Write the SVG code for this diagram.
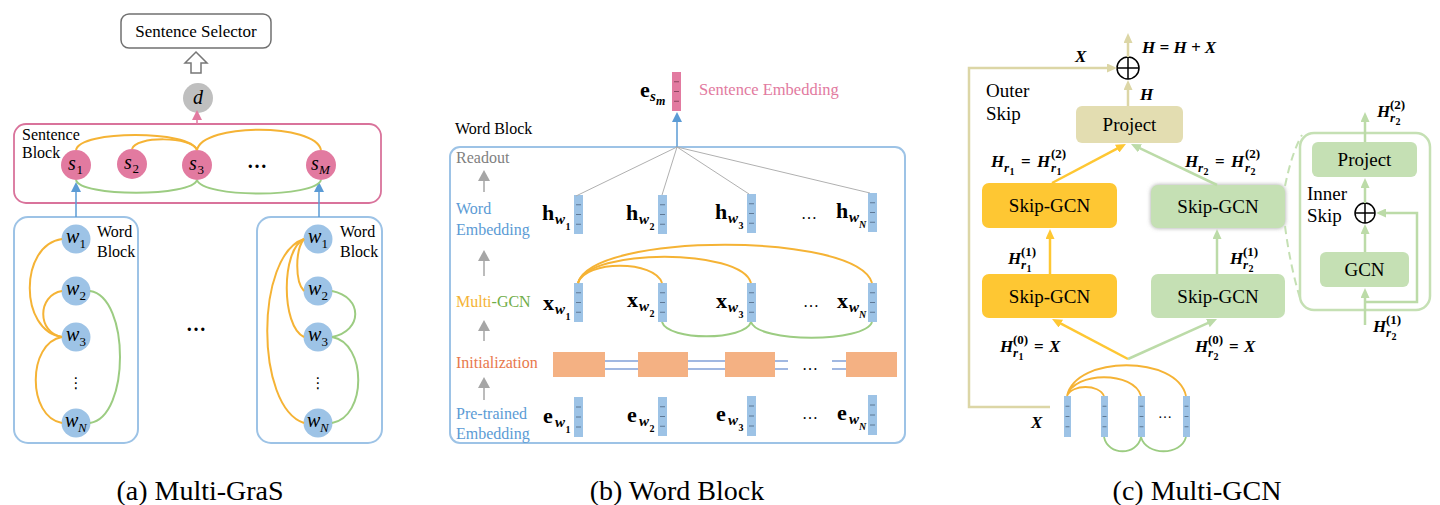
<svg xmlns="http://www.w3.org/2000/svg" width="1440" height="505" viewBox="0 0 1440 505">
<style>
text{font-family:'Liberation Serif','Times New Roman',serif;fill:#000}
.lbl{font-size:16px}
.bx{font-size:19px;text-anchor:middle}
.bi{font-weight:bold;font-style:italic}
.b{font-weight:bold}
.i{font-style:italic}
.org{fill:none;stroke:#f5b335;stroke-width:2}
.grn{fill:none;stroke:#9ccc82;stroke-width:2}
.pk{fill:#e27aa0}
.bl{fill:#9dc3e6}
.cap{font-size:28px;text-anchor:middle}
.dots{font-size:16px;text-anchor:middle}
.kha{fill:none;stroke:#dcd6a6;stroke-width:2.5}
.yel{fill:none;stroke:#fec733;stroke-width:2.5}
.lg{fill:none;stroke:#bcdba8;stroke-width:2.5}
.gy{fill:none;stroke:#a6a6a6;stroke-width:1.5}
</style>
<defs>
<marker id="ab" markerUnits="userSpaceOnUse" markerWidth="10" markerHeight="10" refX="1" refY="5" orient="auto"><path d="M0,0L10,5L0,10z" fill="#5b9bd5"/></marker>
<marker id="ap" markerUnits="userSpaceOnUse" markerWidth="10" markerHeight="10" refX="1" refY="5" orient="auto"><path d="M0,0L10,5L0,10z" fill="#e27aa0"/></marker>
<marker id="ag" markerUnits="userSpaceOnUse" markerWidth="11" markerHeight="12" refX="1" refY="6" orient="auto"><path d="M0,0L11,6L0,12z" fill="#a6a6a6"/></marker>
<marker id="ak" markerUnits="userSpaceOnUse" markerWidth="10" markerHeight="9" refX="1" refY="4.5" orient="auto"><path d="M0,0L10,4.5L0,9z" fill="#dcd6a6"/></marker>
<marker id="ay" markerUnits="userSpaceOnUse" markerWidth="10" markerHeight="9" refX="1" refY="4.5" orient="auto"><path d="M0,0L10,4.5L0,9z" fill="#fec733"/></marker>
<marker id="al" markerUnits="userSpaceOnUse" markerWidth="10" markerHeight="9" refX="1" refY="4.5" orient="auto"><path d="M0,0L10,4.5L0,9z" fill="#bcdba8"/></marker>
<symbol id="vb" viewBox="0 0 9 40" preserveAspectRatio="none"><rect width="9" height="40" fill="#9dc3e6"/><path d="M2 10H7M2 20H7M2 30H7" stroke="#5d7894" stroke-width="1"/></symbol>
<symbol id="vp" viewBox="0 0 9 40" preserveAspectRatio="none"><rect width="9" height="40" fill="#e27aa0"/><path d="M2 10H7M2 20H7M2 30H7" stroke="#8a4460" stroke-width="1"/></symbol>
<filter id="sh" x="-10%" y="-20%" width="120%" height="140%"><feDropShadow dx="0" dy="0" stdDeviation="2" flood-color="#888" flood-opacity="0.8"/></filter>
</defs>

<!-- ================= Panel (a) ================= -->
<g id="a-selector"><rect x="121" y="14" width="150" height="34" rx="8" fill="#fff" stroke="#707070" stroke-width="1.5"/><text x="196" y="37" font-size="17" text-anchor="middle">Sentence Selector</text></g>
<g id="a-hollow-arrow"><path d="M196 52L207 63H201V73H191V63H185Z" fill="#fff" stroke="#777" stroke-width="1.5"/></g>
<g id="a-d"><circle cx="198" cy="98" r="15" fill="#bfbfbf"/><text x="193" y="104" class="i" font-size="20">d</text></g>
<g id="a-sentence-block"><rect x="14" y="124" width="367" height="79" rx="12" fill="none" stroke="#d9739b" stroke-width="1.8"/><text x="22" y="140" class="lbl">Sentence</text><text x="22" y="158" class="lbl">Block</text></g>
<g id="a-s1"><circle cx="76" cy="165" r="15" class="pk"/><text x="68" y="170" class="i" font-size="20">s</text><text x="76.5" y="174" font-size="13">1</text></g>
<g id="a-s2"><circle cx="132" cy="164" r="15" class="pk"/><text x="124" y="169" class="i" font-size="20">s</text><text x="132.5" y="173" font-size="13">2</text></g>
<g id="a-s3"><circle cx="197" cy="165" r="15" class="pk"/><text x="189" y="170" class="i" font-size="20">s</text><text x="197.5" y="174" font-size="13">3</text></g>
<text x="257" y="168" font-size="20" font-weight="bold" text-anchor="middle">…</text>
<g id="a-sM"><circle cx="321" cy="165" r="15" class="pk"/><text x="311" y="170" class="i" font-size="20">s</text><text x="319" y="174" class="i" font-size="13">M</text></g>

<g id="a-wordblock-1"><rect x="14" y="217" width="124" height="226" rx="14" fill="none" stroke="#9dc3e6" stroke-width="2"/><text x="97" y="237" class="lbl">Word</text><text x="97" y="257" class="lbl">Block</text>
<g id="a-w1-1"><circle cx="76" cy="239" r="14.5" class="bl"/><text x="66" y="243" class="i" font-size="20">w</text><text x="79.5" y="248" font-size="13">1</text></g>
<g id="a-w2-1"><circle cx="76" cy="291" r="14.5" class="bl"/><text x="66" y="295" class="i" font-size="20">w</text><text x="79.5" y="300" font-size="13">2</text></g>
<g id="a-w3-1"><circle cx="76" cy="337" r="14.5" class="bl"/><text x="66" y="341" class="i" font-size="20">w</text><text x="79.5" y="346" font-size="13">3</text></g>
<text x="76" y="388" font-size="15" text-anchor="middle" style="font-family:'DejaVu Sans',sans-serif">⋮</text>
<g id="a-wN-1"><circle cx="76" cy="423" r="14.5" class="bl"/><text x="65" y="427" class="i" font-size="20">w</text><text x="78" y="432" class="i" font-size="13">N</text></g>
</g>
<text x="196" y="331" font-size="20" font-weight="bold" text-anchor="middle">…</text>
<g id="a-wordblock-2"><rect x="257" y="217" width="125" height="226" rx="14" fill="none" stroke="#9dc3e6" stroke-width="2"/><text x="340" y="237" class="lbl">Word</text><text x="340" y="257" class="lbl">Block</text>
<g id="a-w1-2"><circle cx="318" cy="239" r="14.5" class="bl"/><text x="308" y="243" class="i" font-size="20">w</text><text x="321.5" y="248" font-size="13">1</text></g>
<g id="a-w2-2"><circle cx="318" cy="291" r="14.5" class="bl"/><text x="308" y="295" class="i" font-size="20">w</text><text x="321.5" y="300" font-size="13">2</text></g>
<g id="a-w3-2"><circle cx="318" cy="337" r="14.5" class="bl"/><text x="308" y="341" class="i" font-size="20">w</text><text x="321.5" y="346" font-size="13">3</text></g>
<text x="318" y="388" font-size="15" text-anchor="middle" style="font-family:'DejaVu Sans',sans-serif">⋮</text>
<g id="a-wN-2"><circle cx="318" cy="423" r="14.5" class="bl"/><text x="307" y="427" class="i" font-size="20">w</text><text x="320" y="432" class="i" font-size="13">N</text></g>
</g>

<!-- ================= Panel (b) ================= -->
<text x="455" y="134" class="lbl">Word Block</text>
<g id="b-wordblock"><rect x="450" y="147" width="455" height="296" rx="10" fill="none" stroke="#9dc3e6" stroke-width="2"/></g>
<g id="b-sentence-emb"><use href="#vp" x="672" y="72" width="9" height="39"/>
<text x="640" y="97" class="b" font-size="22">e</text><text x="650" y="101" class="bi" font-size="15">s</text><text x="656" y="105" class="bi" font-size="12">m</text>
<text x="699" y="95" font-size="16.5" style="fill:#e27aa0">Sentence Embedding</text></g>
<g id="b-left-labels">
<text x="456" y="163" class="lbl" style="fill:#7f7f7f">Readout</text>
<text x="456" y="214" class="lbl" style="fill:#5b9bd5">Word</text>
<text x="456" y="235" class="lbl" style="fill:#5b9bd5">Embedding</text>
<text x="456" y="307" class="lbl"><tspan style="fill:#f5b335">Multi</tspan><tspan style="fill:#70ad47">-GCN</tspan></text>
<text x="456" y="368" class="lbl" style="fill:#e8784b">Initialization</text>
<text x="456" y="419" class="lbl" style="fill:#5b9bd5">Pre-trained</text>
<text x="456" y="439" class="lbl" style="fill:#5b9bd5">Embedding</text>
</g>
<g id="b-h">
<use href="#vb" x="574" y="195" width="9" height="39"/><use href="#vb" x="658" y="195" width="9" height="39"/><use href="#vb" x="747" y="194" width="9" height="39"/><use href="#vb" x="868" y="193" width="9" height="39"/>
<text x="542" y="220" class="b" font-size="22">h</text><text x="555" y="224" class="bi" font-size="15">w</text><text x="565.5" y="230" class="b" font-size="10">1</text>
<text x="626" y="220" class="b" font-size="22">h</text><text x="639" y="224" class="bi" font-size="15">w</text><text x="649.5" y="230" class="b" font-size="10">2</text>
<text x="715" y="219" class="b" font-size="22">h</text><text x="728" y="223" class="bi" font-size="15">w</text><text x="738.5" y="229" class="b" font-size="10">3</text>
<text x="809" y="219" class="dots">…</text>
<text x="836" y="218" class="b" font-size="22">h</text><text x="849" y="222" class="bi" font-size="15">w</text><text x="859" y="228" class="bi" font-size="10">N</text>
</g>
<g id="b-x">
<use href="#vb" x="574" y="283" width="9" height="39"/><use href="#vb" x="658" y="283" width="9" height="39"/><use href="#vb" x="747" y="283" width="9" height="39"/><use href="#vb" x="868" y="283" width="9" height="39"/>
<text x="543" y="310" class="b" font-size="22">x</text><text x="555" y="314" class="bi" font-size="15">w</text><text x="565.5" y="320" class="b" font-size="10">1</text>
<text x="627" y="307" class="b" font-size="22">x</text><text x="639" y="311" class="bi" font-size="15">w</text><text x="649.5" y="317" class="b" font-size="10">2</text>
<text x="716" y="308" class="b" font-size="22">x</text><text x="728" y="312" class="bi" font-size="15">w</text><text x="738.5" y="318" class="b" font-size="10">3</text>
<text x="811" y="307" class="dots">…</text>
<text x="837" y="308" class="b" font-size="22">x</text><text x="849" y="312" class="bi" font-size="15">w</text><text x="859" y="318" class="bi" font-size="10">N</text>
</g>
<g id="b-init">
<rect x="553" y="352" width="52" height="25" fill="#f4b183"/><rect x="638" y="352" width="50" height="25" fill="#f4b183"/><rect x="725" y="352" width="50" height="25" fill="#f4b183"/><rect x="846" y="352" width="51" height="25" fill="#f4b183"/>
<text x="810" y="370" class="dots">…</text>
</g>
<g id="b-e">
<use href="#vb" x="574" y="397" width="9" height="40"/><use href="#vb" x="658" y="397" width="9" height="39"/><use href="#vb" x="747" y="396" width="9" height="40"/><use href="#vb" x="868" y="395" width="9" height="40"/>
<text x="543" y="423" class="b" font-size="22">e</text><text x="555" y="427" class="bi" font-size="15">w</text><text x="565.5" y="433" class="b" font-size="10">1</text>
<text x="627" y="422" class="b" font-size="22">e</text><text x="639" y="426" class="bi" font-size="15">w</text><text x="649.5" y="432" class="b" font-size="10">2</text>
<text x="716" y="421" class="b" font-size="22">e</text><text x="728" y="425" class="bi" font-size="15">w</text><text x="738.5" y="431" class="b" font-size="10">3</text>
<text x="810" y="419" class="dots">…</text>
<text x="837" y="420" class="b" font-size="22">e</text><text x="849" y="424" class="bi" font-size="15">w</text><text x="859" y="430" class="bi" font-size="10">N</text>
</g>

<!-- ================= Panel (c) ================= -->
<g id="c-oplus-outer"><circle cx="1128" cy="68" r="11" fill="#fff" stroke="#000" stroke-width="1.5"/><path d="M1117 68H1139M1128 57V79" stroke="#000" stroke-width="1.5"/></g>
<g id="c-project-outer"><rect x="1076" y="106" width="107" height="37" rx="6" fill="#e3ddb1"/><text x="1129.5" y="131" class="bx">Project</text></g>
<text x="986" y="97" font-size="19">Outer</text><text x="986" y="120" font-size="19">Skip</text>
<g id="c-skipgcn-r1-2"><rect x="982" y="183" width="135" height="45" rx="7" fill="#fec733"/><text x="1049.5" y="212" class="bx">Skip-GCN</text></g>
<g id="c-skipgcn-r2-2"><rect x="1151" y="185" width="134" height="43" rx="7" fill="#c5e0b4" filter="url(#sh)"/><text x="1218" y="213" class="bx">Skip-GCN</text></g>
<g id="c-skipgcn-r1-1"><rect x="982" y="274" width="135" height="44" rx="7" fill="#fec733"/><text x="1049.5" y="303" class="bx">Skip-GCN</text></g>
<g id="c-skipgcn-r2-1"><rect x="1151" y="274" width="134" height="44" rx="7" fill="#c5e0b4"/><text x="1218" y="303" class="bx">Skip-GCN</text></g>
<g id="c-X">
<use href="#vb" x="1064" y="396" width="7" height="41"/><use href="#vb" x="1101" y="396" width="7" height="41"/><use href="#vb" x="1138" y="396" width="7" height="41"/><use href="#vb" x="1183" y="396" width="7" height="41"/>
<text x="1165" y="418" font-size="14" text-anchor="middle">…</text>
<text x="1031" y="428" class="bi" font-size="17">X</text>
</g>
<g id="c-inner-skip">
<rect x="1300" y="133" width="130" height="177" rx="14" fill="none" stroke="#c5e0b4" stroke-width="2.5"/>
<g id="c-project-inner"><rect x="1312" y="142" width="105" height="35" rx="6" fill="#c5e0b4"/><text x="1364.5" y="166" class="bx">Project</text></g>
<text x="1307" y="200" font-size="19">Inner</text><text x="1307" y="222" font-size="19">Skip</text>
<g id="c-oplus-inner"><circle cx="1365" cy="213" r="10" fill="#fff" stroke="#000" stroke-width="1.5"/><path d="M1355 213H1375M1365 203V223" stroke="#000" stroke-width="1.5"/></g>
<g id="c-gcn"><rect x="1320" y="252" width="89" height="35" rx="6" fill="#c5e0b4"/><text x="1364.5" y="276" class="bx">GCN</text></g>
</g>

<!-- ================= Connectors ================= -->
<g id="connectors">
<line x1="197" y1="124" x2="197" y2="119" stroke="#e27aa0" stroke-width="1.5" marker-end="url(#ap)"/>
<line x1="76" y1="217" x2="76" y2="191" stroke="#5b9bd5" stroke-width="1.5" marker-end="url(#ab)"/>
<line x1="319" y1="217" x2="319" y2="191" stroke="#5b9bd5" stroke-width="1.5" marker-end="url(#ab)"/>
<path class="org" d="M76 150C80 130 190 130 197 150"/>
<path class="org" d="M132 149C135 136 192 136 197 150"/>
<path class="org" d="M197 150C203 123 315 123 321 150"/>
<path class="grn" d="M76 180C80 197 192 197 197 180"/>
<path class="grn" d="M197 180C203 198 315 198 321 180"/>
<path class="org" d="M62 239C19 245 19 331 62 337"/>
<path class="org" d="M62 291C37 295 37 333 62 337"/>
<path class="org" d="M62 337C27 343 27 417 62 423"/>
<path class="grn" d="M90 291C130 297 130 417 90 423"/>
<path class="org" d="M304 239C295 250 295 282 304 291"/>
<path class="org" d="M304 239C281 250 281 326 304 337"/>
<path class="org" d="M304 239C255 255 255 407 304 423"/>
<path class="grn" d="M332 291C363 297 363 331 332 337"/>
<path class="grn" d="M332 337C367 343 367 417 332 423"/>
<line x1="677" y1="147" x2="677" y2="121" stroke="#5b9bd5" stroke-width="1.5" marker-end="url(#ab)"/>
<path d="M677 147L576 196M677 147L662 195M677 147L749 194M677 147L870 193" stroke="#b0b0b0" stroke-width="1" fill="none"/>
<line class="gy" x1="484" y1="192" x2="484" y2="180" marker-end="url(#ag)"/>
<line class="gy" x1="484" y1="276" x2="484" y2="260" marker-end="url(#ag)"/>
<line class="gy" x1="484" y1="341" x2="484" y2="330" marker-end="url(#ag)"/>
<line class="gy" x1="484" y1="400" x2="484" y2="387" marker-end="url(#ag)"/>
<path class="org" d="M578 283C585 260 655 260 662 283"/>
<path class="org" d="M578 283C588 248 741 248 751 283"/>
<path class="org" d="M578 283C592 232 858 232 872 283"/>
<path class="grn" d="M662 322C668 341 745 341 751 322"/>
<path class="grn" d="M751 322C758 343 865 343 872 322"/>
<path d="M605 361H638M605 369H638M688 361H725M688 369H725M775 361H788M775 369H788M832 361H846M832 369H846" stroke="#4472c4" stroke-width="1.2" fill="none"/>
<path class="kha" d="M1050 407H969V68H1108" marker-end="url(#ak)"/>
<line class="kha" x1="1128" y1="57" x2="1128" y2="42" marker-end="url(#ak)"/>
<line class="kha" x1="1128" y1="106" x2="1128" y2="89" marker-end="url(#ak)"/>
<line class="yel" x1="1052" y1="183" x2="1118" y2="148.2" marker-end="url(#ay)"/>
<line class="lg" x1="1217" y1="185" x2="1139.1" y2="147.9" marker-end="url(#al)"/>
<line class="yel" x1="1050" y1="274" x2="1050" y2="238" marker-end="url(#ay)"/>
<line class="lg" x1="1217" y1="274" x2="1217" y2="238" marker-end="url(#al)"/>
<line class="yel" x1="1128" y1="359" x2="1060" y2="323.2" marker-end="url(#ay)"/>
<line class="lg" x1="1128" y1="359" x2="1208.8" y2="322.7" marker-end="url(#al)"/>
<path d="M1067 396C1072 384 1099 384 1104 396M1067 396C1074 371 1134 371 1141 396M1067 396C1076 355 1177 355 1186 396" fill="none" stroke="#f5b335" stroke-width="1.8"/>
<path d="M1104 437C1108 456 1137 456 1141 437M1141 437C1146 456 1181 456 1186 437" fill="none" stroke="#9ccc82" stroke-width="1.8"/>
<path d="M1285 186Q1292 152 1302 135M1285 226Q1290 265 1300 298" fill="none" stroke="#c5e0b4" stroke-width="2" stroke-dasharray="8 5"/>
<line class="lg" x1="1365" y1="142" x2="1365" y2="121" marker-end="url(#al)"/>
<line class="lg" x1="1365" y1="203" x2="1365" y2="187" marker-end="url(#al)"/>
<line class="lg" x1="1365" y1="252" x2="1365" y2="233" marker-end="url(#al)"/>
<line class="lg" x1="1365" y1="325" x2="1365" y2="297" marker-end="url(#al)"/>
<path class="lg" d="M1365 302H1417V213H1385" marker-end="url(#al)"/>
</g>

<!-- ================= Edge labels (c) ================= -->
<g id="c-labels">
<text x="1075" y="62" class="bi" font-size="17">X</text>
<text x="1142" y="53" class="bi" font-size="17" xml:space="preserve">H = H + X</text>
<text x="1140" y="100" class="bi" font-size="17">H</text>
<text x="991" y="167" class="bi" font-size="17">H</text><text x="1004" y="172" class="bi" font-size="13">r</text><text x="1009.5" y="175" class="b" font-size="10">1</text><text x="1021" y="167" class="b" font-size="17">=</text><text x="1037" y="167" class="bi" font-size="17">H</text><text x="1051" y="158" class="b" font-size="13">(2)</text><text x="1051" y="172" class="bi" font-size="13">r</text><text x="1056.5" y="175" class="b" font-size="10">1</text>
<text x="1185" y="167" class="bi" font-size="17">H</text><text x="1198" y="172" class="bi" font-size="13">r</text><text x="1203.5" y="175" class="b" font-size="10">2</text><text x="1215" y="167" class="b" font-size="17">=</text><text x="1231" y="167" class="bi" font-size="17">H</text><text x="1245" y="158" class="b" font-size="13">(2)</text><text x="1245" y="172" class="bi" font-size="13">r</text><text x="1250.5" y="175" class="b" font-size="10">2</text>
<text x="1008" y="264" class="bi" font-size="17">H</text><text x="1021" y="256" class="b" font-size="13">(1)</text><text x="1021" y="269" class="bi" font-size="13">r</text><text x="1026.5" y="272" class="b" font-size="10">1</text>
<text x="1230" y="264" class="bi" font-size="17">H</text><text x="1243" y="256" class="b" font-size="13">(1)</text><text x="1243" y="269" class="bi" font-size="13">r</text><text x="1248.5" y="272" class="b" font-size="10">2</text>
<text x="1000" y="352" class="bi" font-size="17">H</text><text x="1013" y="344" class="b" font-size="13">(0)</text><text x="1013" y="357" class="bi" font-size="13">r</text><text x="1018.5" y="360" class="b" font-size="10">1</text><text x="1034" y="352" class="b" font-size="17">=</text><text x="1049" y="352" class="bi" font-size="17">X</text>
<text x="1195" y="352" class="bi" font-size="17">H</text><text x="1208" y="344" class="b" font-size="13">(0)</text><text x="1208" y="357" class="bi" font-size="13">r</text><text x="1213.5" y="360" class="b" font-size="10">2</text><text x="1229" y="352" class="b" font-size="17">=</text><text x="1244" y="352" class="bi" font-size="17">X</text>
<text x="1377" y="117" class="bi" font-size="17">H</text><text x="1390" y="109" class="b" font-size="13">(2)</text><text x="1390" y="122" class="bi" font-size="13">r</text><text x="1395.5" y="125" class="b" font-size="10">2</text>
<text x="1373" y="332" class="bi" font-size="17">H</text><text x="1386" y="324" class="b" font-size="13">(1)</text><text x="1386" y="337" class="bi" font-size="13">r</text><text x="1391.5" y="340" class="b" font-size="10">2</text>
</g>

<!-- ================= Captions ================= -->
<text x="200" y="500" class="cap">(a) Multi-GraS</text>
<text x="677" y="500" class="cap">(b) Word Block</text>
<text x="1197" y="500" class="cap">(c) Multi-GCN</text>
</svg>
